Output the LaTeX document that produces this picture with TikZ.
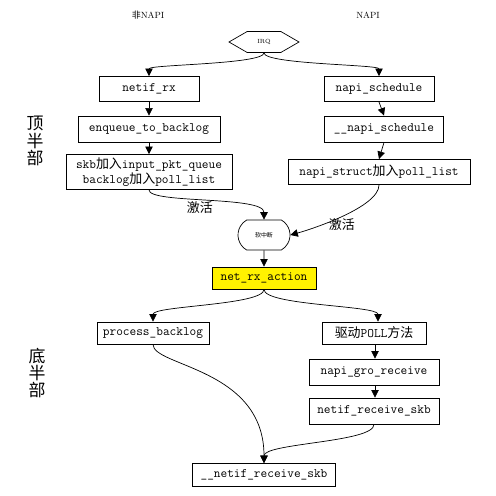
\documentclass[tikz,border=0pt]{standalone}
\usepackage{fontspec}
\usepackage{tikz}
\usetikzlibrary{positioning,shapes.symbols,shapes.misc,arrows.meta,backgrounds}
\newfontfamily\cjk{Noto Sans CJK SC}
\tikzset{
  func/.style={shape=rectangle, draw, line width=0.9bp, inner sep=1bp, minimum height=25bp,
    font=\ttfamily\fontsize{13}{15}\selectfont},
  flow/.style={->, line width=0.7bp},
  tag/.style={font=\cjk\fontsize{13}{15}\selectfont},
}
\newcommand{\zh}[1]{{\cjk #1}}

\begin{document}
\begin{tikzpicture}[x=1bp, y=1bp, >={Triangle[length=7.5bp,width=7.5bp]}]
            \fill[white] (0,0) rectangle (496,-496);
            \useasboundingbox (0,0) rectangle (496,-496);
            \node[shape=signal, signal to=east and west, signal pointer angle=60, draw, line width=0.7bp,
                minimum width=70bp, minimum height=21bp, inner sep=0pt,
                font=\fontsize{6}{7}\selectfont] (IRQ) at (264,-42) {IRQ};
            \begin{scope} [on grid]
                \node[func, minimum width=100bp] (netifrx) [below left=47bp and 115bp of IRQ] {netif\_rx};
                \node[func, minimum width=110bp] (napisched) [below right=47bp and 115bp of IRQ] {napi\_schedule};
                \node[func, minimum width=142bp, minimum height=26bp] (enqueue) [below=40bp of netifrx] {enqueue\_to\_backlog};
                \node[func, minimum width=119bp, minimum height=26bp] (napischedb) [below right=40bp and 5bp of napisched] {\_\_napi\_schedule};
                \node[func, minimum width=166bp, minimum height=35bp, align=center] (skbqueue) [below=43bp of enqueue]
                    {skb\zh{加入}input\_pkt\_queue\\backlog\zh{加入}poll\_list};
                \node[func, minimum width=182bp] (napistruct) [below left=43bp and 5bp of napischedb] {napi\_struct\zh{加入}poll\_list};
                \node[shape=rounded rectangle, rounded rectangle arc length=120, draw, line width=0.7bp,
                    minimum width=52bp, minimum height=30bp, inner sep=0pt,
                    font=\cjk\fontsize{6}{7}\selectfont] (softirq) [below=193bp of IRQ] {软中断};
                \node[func, fill=yellow, minimum width=104bp, minimum height=22bp] (netrx) [below=43bp of softirq] {net\_rx\_action};
                \node[func, minimum width=112bp, minimum height=22bp] (backlog) [below left=55bp and 111bp of netrx] {process\_backlog};
                \node[func, minimum width=104bp, minimum height=22bp] (poll) [below right=55bp and 110bp of netrx] {\zh{驱动}POLL\zh{方法}};
                \node[func, minimum width=130bp, minimum height=26bp] (grorecv) [below=39bp of poll] {napi\_gro\_receive};
                \node[func, minimum width=130bp, minimum height=26bp] (netifrecv) [below=39bp of grorecv] {netif\_receive\_skb};
                \node[func, minimum width=143bp, minimum height=23bp] (netifrecvb) [below=197bp of netrx] {\_\_netif\_receive\_skb};
            \end{scope}
            \begin{scope}[on background layer]
                \fill[yellow, rounded corners=6bp] ([xshift=-1bp, yshift=4bp]netrx.north west) rectangle ([xshift=5bp, yshift=-4bp]netrx.south east);
            \end{scope}
            % column titles and side labels
            \node[font=\fontsize{9}{10}\selectfont] (nonnapi) at (148,-15) {\zh{非}NAPI};
            \node[font=\fontsize{9}{10}\selectfont] (napi) at (368,-15) {NAPI};
            \node[font=\cjk\fontsize{17}{17.5}\selectfont, align=center] (tophalf) at (35,-141) {顶\\半\\部};
            \node[font=\cjk\fontsize{17}{17.5}\selectfont, align=center] (bottomhalf) at (37,-373) {底\\半\\部};
            % top half
            \draw[flow] (IRQ.south) to [out=-90, in=90, looseness=0.25] (netifrx.north);
            \draw[flow] (IRQ.south) to [out=-90, in=90, looseness=0.25] (napisched.north);
            \draw[flow] (netifrx) -- (enqueue);
            \draw[flow] (enqueue) -- (skbqueue);
            \draw[flow] (napisched.south) -- (napischedb.north);
            \draw[flow] (napischedb.south) -- (napistruct.north);
            \draw[flow] (skbqueue.south) .. controls +(0,-14) and +(0,24) .. node[tag, pos=0.45, below, xshift=2bp, yshift=2bp] (wakeleft) {激活} (softirq.north);
            \draw[flow] (napistruct.south) .. controls +(0,-22) and +(22,6) .. node[tag, pos=0.5, below, xshift=-1bp, yshift=1bp] (wakeright) {激活} (softirq.east);
            \draw[flow] (softirq) -- (netrx);
            % bottom half
            \draw[flow] (netrx.south) to [out=-90, in=90, looseness=0.35] (backlog.north);
            \draw[flow] (netrx.south) to [out=-90, in=90, looseness=0.35] ([xshift=4bp]poll.north);
            \draw[flow] ([xshift=1bp]poll.south) -- ([xshift=1bp]grorecv.north);
            \draw[flow] ([xshift=1bp]grorecv.south) -- ([xshift=1bp]netifrecv.north);
            \draw[flow] (backlog.south) .. controls +(0,-22) and +(0,95) .. (netifrecvb.north);
            \draw[flow] (netifrecv.south) .. controls +(0,-18) and +(0,20) .. (netifrecvb.north);
        \end{tikzpicture}
\end{document}
